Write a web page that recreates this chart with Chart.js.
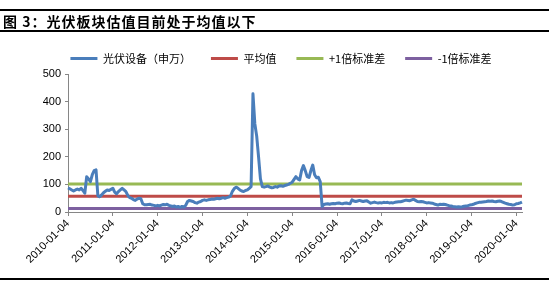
<!DOCTYPE html>
<html><head><meta charset="utf-8">
<script src="https://cdn.jsdelivr.net/npm/chart.js@4"></script>
<style>
html,body{margin:0;padding:0;background:#fff;}
#wrap{position:relative;width:549px;height:285px;overflow:hidden;background:#fff;}
#c{position:absolute;left:0;top:0;}
.rule{position:absolute;left:0;width:549px;background:#000;}
#title{position:absolute;left:3px;top:12px;font-family:"Noto Sans CJK SC";font-weight:bold;font-size:14px;letter-spacing:1px;line-height:18px;color:#000;white-space:nowrap;}
</style></head><body>
<div id="wrap">
<canvas id="c" width="549" height="285"></canvas>
<div class="rule" style="top:9px;height:2px"></div>
<div id="title">图 3：光伏板块估值目前处于均值以下</div>
<div class="rule" style="top:30px;height:1.5px"></div>
<div class="rule" style="top:278px;height:2px"></div>
</div>
<script>
// ---- data (semi-monthly readings, 2010-01 .. 2020-02) ----
const years = [2010, 2011, 2012, 2013, 2014, 2015, 2016, 2017, 2018, 2019, 2020];
const halfMonthDays = ['04', '18'];
const pvValues = [
  87,84,80,76,80,83,80,86,78,68,128,120,110,135,150,153,58,
  55,62,70,75,80,78,82,86,72,66,74,80,86,80,74,60,52,50,45,42,47,50,48,30,26,
  26,27,28,25,24,22,24,22,25,27,26,28,24,22,20,22,18,20,17,20,18,24,
  38,42,40,38,34,32,36,38,42,44,42,44,45,47,46,48,50,48,50,52,50,52,54,58,75,85,90,86,80,76,74,78,80,86,92,
  428,320,275,200,120,92,
  90,92,94,90,88,89,92,90,94,95,93,96,98,100,104,108,118,128,120,116,150,168,150,128,125,150,170,135,124,126,110,
  20,27,29,30,28,30,31,30,32,33,31,30,32,33,31,30,44,40,38,40,42,40,
  38,40,41,36,32,34,36,34,33,34,33,35,34,35,33,34,33,35,36,37,37,39,41,43,42,41,44,46,42,38,37,38,37,35,33,34,33,32,29,27,25,
  28,27,28,27,25,23,22,20,19,18,19,18,19,21,22,23,25,26,28,31,33,35,35,36,37,38,40,39,40,38,37,39,40,38,35,32,30,28,27,25,26,30,31,33,36
];
const meanValue = 57;
const plusOneStd = 101;
const minusOneStd = 13;
const seriesNames = ['光伏设备（申万）', '平均值', '+1倍标准差', '-1倍标准差'];
const yTickMin = 0, yTickMax = 500, yTickStep = 50;

const allDates = [];
for (const y of years) for (let m = 1; m <= 12; m++) for (const d of halfMonthDays)
  allDates.push(y + '-' + String(m).padStart(2, '0') + '-' + d);
const categories = allDates.slice(0, pvValues.length);
const constSeries = v => categories.map(() => v);

const axisColor = '#868686';
Chart.defaults.font.family = '"Liberation Sans", Arial, sans-serif';
Chart.defaults.color = '#000';

new Chart(document.getElementById('c'), {
  type: 'line',
  data: {
    labels: categories,
    datasets: [
      { label: seriesNames[0], data: pvValues, borderColor: '#4A7EBB', borderWidth: 3 },
      { label: seriesNames[1], data: constSeries(meanValue), borderColor: '#BE4B48', borderWidth: 3 },
      { label: seriesNames[2], data: constSeries(plusOneStd), borderColor: '#98B954', borderWidth: 3 },
      { label: seriesNames[3], data: constSeries(minusOneStd), borderColor: '#7D60A0', borderWidth: 3 }
    ]
  },
  options: {
    responsive: false,
    animation: false,
    events: [],
    elements: { point: { radius: 0 }, line: { tension: 0, borderJoinStyle: 'round' } },
    layout: { padding: { top: 24, left: 13, right: 0, bottom: 0 } },
    plugins: {
      tooltip: { enabled: false },
      legend: {
        position: 'top',
        labels: {
          boxWidth: 27, boxHeight: 3, padding: 20,
          font: { family: '"Noto Sans CJK SC"', size: 11 },
          color: '#000',
          generateLabels: chart => chart.data.datasets.map((ds, i) => ({
            text: ds.label, fillStyle: ds.borderColor, strokeStyle: ds.borderColor,
            lineWidth: 0, hidden: false, datasetIndex: i, fontColor: '#000'
          }))
        }
      }
    },
    scales: {
      x: {
        type: 'category',
        afterFit: s => { s.height = 73; s.paddingRight = 27; },
        border: { color: axisColor, width: 1 },
        grid: {
          drawOnChartArea: false, drawTicks: true, tickLength: 4,
          color: ctx => (ctx.tick && ctx.tick.label) ? axisColor : 'rgba(0,0,0,0)'
        },
        ticks: {
          autoSkip: false, maxRotation: 45, minRotation: 45, padding: 1,
          font: { size: 11 }, color: '#000',
          callback: (val, idx) => categories[idx].endsWith('-01-04') ? categories[idx] : null
        }
      },
      y: {
        min: yTickMin, max: yTickMax,
        afterFit: s => { s.width = 55; s.paddingTop = 74; },
        border: { color: axisColor, width: 1 },
        grid: { drawOnChartArea: false, drawTicks: true, tickLength: 3, color: axisColor },
        ticks: { stepSize: yTickStep, padding: 4, font: { size: 11 }, color: '#000' }
      }
    }
  }
});
</script>
</body></html>
